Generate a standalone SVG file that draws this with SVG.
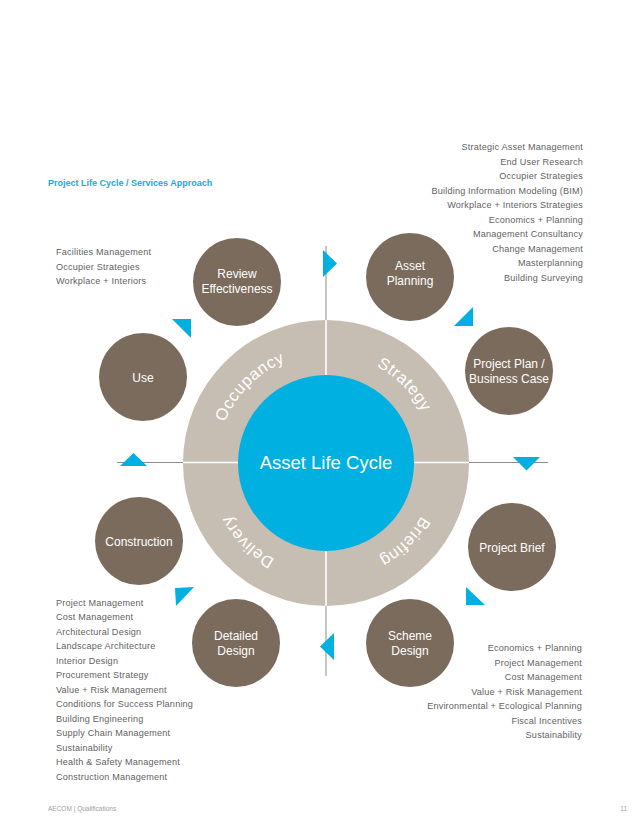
<svg xmlns="http://www.w3.org/2000/svg" width="638" height="826" viewBox="0 0 638 826">
<style>
.list{font-family:"Liberation Sans",Arial,sans-serif;font-size:9.1px;letter-spacing:0.2px;fill:#5f5f5f}
.r{text-anchor:end}
.node circle{fill:#7b6b5c}
.node text{font-family:"Liberation Sans",Arial,sans-serif;font-size:12px;fill:#ffffff;text-anchor:middle}
.ring{font-family:"Liberation Sans",Arial,sans-serif;font-size:16.5px;fill:#ffffff;letter-spacing:0.6px}
.tri{fill:#00b0e0}
.gl{stroke:#8c8c8c;stroke-width:1;fill:none}
.wl{stroke:#ffffff;stroke-width:1.6;fill:none}
</style>
<defs>
<path id="ringPath" d="M 217 463 A 109 109 0 1 1 435 463 A 109 109 0 1 1 217 463"/>
</defs>
<rect width="638" height="826" fill="#ffffff"/>
<text x="48" y="185.5" font-family="Liberation Sans,Arial,sans-serif" font-size="9" font-weight="bold" fill="#1aa7d8">Project Life Cycle / Services Approach</text>

<g id="center">
<circle cx="326" cy="463" r="143" fill="#c6bdb3"/>
<circle cx="326" cy="463" r="88" fill="#00b0e0"/>
<text x="326" y="469" font-family="Liberation Sans,Arial,sans-serif" font-size="18.5" fill="#ffffff" text-anchor="middle">Asset Life Cycle</text>
</g>

<g id="connectors">
<line class="gl" x1="326" y1="246" x2="326" y2="320"/>
<line class="wl" x1="326" y1="320" x2="326" y2="375"/>
<line class="wl" x1="326" y1="551" x2="326" y2="606"/>
<line class="gl" x1="326" y1="606" x2="326" y2="676"/>
<line class="gl" x1="117" y1="462.5" x2="183" y2="462.5"/>
<line class="wl" x1="183" y1="462.5" x2="238" y2="462.5"/>
<line class="wl" x1="414" y1="462.5" x2="469" y2="462.5"/>
<line class="gl" x1="469" y1="462.5" x2="548" y2="462.5"/>
<polygon class="tri" points="323,250 337,263.5 323,277"/>
<polygon class="tri" points="473,307 473,326 454,326"/>
<polygon class="tri" points="513,457 540,457 526.5,470.5"/>
<polygon class="tri" points="466,587 466,605 485,605"/>
<polygon class="tri" points="334,633 334,660 320,646.5"/>
<polygon class="tri" points="175,588 194,587 176,606"/>
<polygon class="tri" points="120,466 147,466 133.5,453"/>
<polygon class="tri" points="172,319 191,319 191,338"/>
</g>

<g id="ring-labels">
<text class="ring"><textPath href="#ringPath" startOffset="12.5%" text-anchor="middle">Occupancy</textPath></text>
<text class="ring"><textPath href="#ringPath" startOffset="37.5%" text-anchor="middle">Strategy</textPath></text>
<text class="ring"><textPath href="#ringPath" startOffset="62.5%" text-anchor="middle">Briefing</textPath></text>
<text class="ring"><textPath href="#ringPath" startOffset="87.5%" text-anchor="middle">Delivery</textPath></text>
</g>

<g id="node-review" class="node"><circle cx="237" cy="282" r="44"/><text x="237" y="278">Review</text><text x="237" y="293">Effectiveness</text></g>
<g id="node-asset" class="node"><circle cx="410" cy="277" r="44"/><text x="410" y="270">Asset</text><text x="410" y="285">Planning</text></g>
<g id="node-use" class="node"><circle cx="143" cy="377" r="44"/><text x="143" y="381.5">Use</text></g>
<g id="node-plan" class="node"><circle cx="509" cy="371" r="44"/><text x="509" y="368">Project Plan /</text><text x="509" y="383">Business Case</text></g>
<g id="node-construction" class="node"><circle cx="139" cy="541" r="44"/><text x="139" y="545.5">Construction</text></g>
<g id="node-brief" class="node"><circle cx="512" cy="547" r="44"/><text x="512" y="551.5">Project Brief</text></g>
<g id="node-detailed" class="node"><circle cx="236" cy="643" r="44"/><text x="236" y="640">Detailed</text><text x="236" y="655">Design</text></g>
<g id="node-scheme" class="node"><circle cx="410" cy="643" r="44"/><text x="410" y="640">Scheme</text><text x="410" y="655">Design</text></g>

<g id="list-strategy" class="list r">
<text x="583" y="150">Strategic Asset Management</text>
<text x="583" y="164.5">End User Research</text>
<text x="583" y="179">Occupier Strategies</text>
<text x="583" y="193.5">Building Information Modeling (BIM)</text>
<text x="583" y="208">Workplace + Interiors Strategies</text>
<text x="583" y="222.5">Economics + Planning</text>
<text x="583" y="237">Management Consultancy</text>
<text x="583" y="251.5">Change Management</text>
<text x="583" y="266">Masterplanning</text>
<text x="583" y="280.5">Building Surveying</text>
</g>

<g id="list-occupancy" class="list">
<text x="56" y="255">Facilities Management</text>
<text x="56" y="269.5">Occupier Strategies</text>
<text x="56" y="284">Workplace + Interiors</text>
</g>

<g id="list-delivery" class="list">
<text x="56" y="605.5">Project Management</text>
<text x="56" y="620">Cost Management</text>
<text x="56" y="634.5">Architectural Design</text>
<text x="56" y="649">Landscape Architecture</text>
<text x="56" y="663.5">Interior Design</text>
<text x="56" y="678">Procurement Strategy</text>
<text x="56" y="692.5">Value + Risk Management</text>
<text x="56" y="707">Conditions for Success Planning</text>
<text x="56" y="721.5">Building Engineering</text>
<text x="56" y="736">Supply Chain Management</text>
<text x="56" y="750.5">Sustainability</text>
<text x="56" y="765">Health &amp; Safety Management</text>
<text x="56" y="779.5">Construction Management</text>
</g>

<g id="list-briefing" class="list r">
<text x="582" y="651">Economics + Planning</text>
<text x="582" y="665.5">Project Management</text>
<text x="582" y="680">Cost Management</text>
<text x="582" y="694.5">Value + Risk Management</text>
<text x="582" y="709">Environmental + Ecological Planning</text>
<text x="582" y="723.5">Fiscal Incentives</text>
<text x="582" y="738">Sustainability</text>
</g>

<g id="footer" font-family="Liberation Sans,Arial,sans-serif" font-size="6.5" fill="#a0a0a0">
<text x="48" y="811">AECOM | Qualifications</text>
<text x="627" y="811" text-anchor="end">11</text>
</g>
</svg>
